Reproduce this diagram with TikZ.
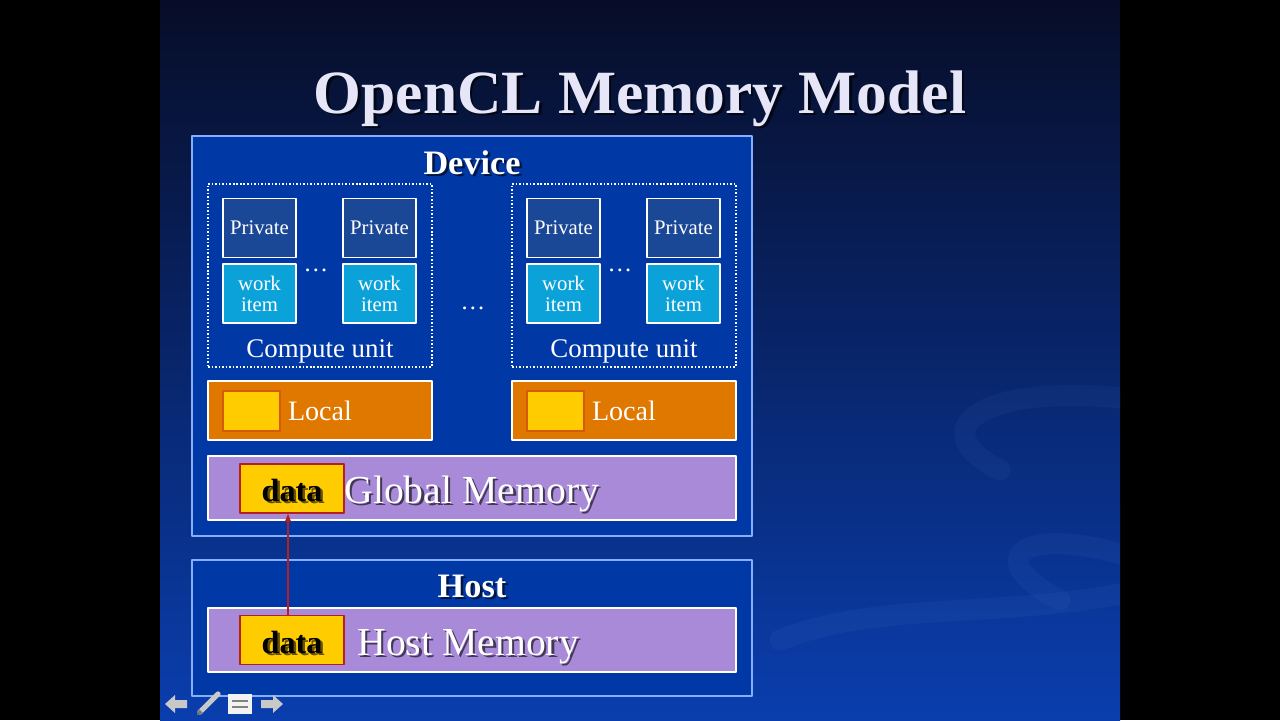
\documentclass[tikz,border=0pt]{standalone}
\usepackage{fontspec}
\setmainfont{Liberation Serif}
\usetikzlibrary{arrows.meta}
\definecolor{slidetop}{HTML}{070D28}
\definecolor{slidemid}{HTML}{0B2C84}
\definecolor{slidebot}{HTML}{0A3EAE}
\definecolor{devblue}{HTML}{0038A6}
\definecolor{edgeblue}{HTML}{86AEFF}
\definecolor{privblue}{HTML}{1A4897}
\definecolor{wicyan}{HTML}{0BA2D9}
\definecolor{locorange}{HTML}{E07800}
\definecolor{locedge}{HTML}{D45A10}
\definecolor{datayellow}{HTML}{FFCC00}
\definecolor{dataedge}{HTML}{B51F1F}
\definecolor{memlav}{HTML}{A98AD9}
\definecolor{titlewhite}{HTML}{E6E6F8}
\definecolor{navgray}{HTML}{C8C8C8}
\newcommand\shlabel[4]{% name, position, style, text
  \node[#3, text=black, opacity=0.6, xshift=0.05cm, yshift=-0.05cm] (#1-sh) at #2 {#4};
  \node[#3] (#1) at #2 {#4};}
\tikzset{
  frame/.style={draw=edgeblue, fill=devblue, line width=0.7pt, minimum width=11.2cm},
  cubox/.style={draw=white, line width=0.9pt, dash pattern=on 0.9pt off 1.1pt, minimum width=4.48cm, minimum height=3.66cm},
  priv/.style={draw=white, fill=privblue, line width=1pt, minimum width=1.46cm, minimum height=1.18cm, inner sep=0pt, text=white, font=\fontsize{11.8}{12}\selectfont},
  wi/.style={priv, fill=wicyan, align=center},
  locbox/.style={draw=white, fill=locorange, line width=1pt, minimum width=4.48cm, minimum height=1.18cm, inner sep=0pt, text=white, font=\fontsize{16}{16}\selectfont},
  locsq/.style={draw=locedge, fill=datayellow, line width=0.7pt, minimum width=1.14cm, minimum height=0.8cm},
  membox/.style={draw=white, fill=memlav, line width=1pt, minimum width=10.56cm, minimum height=1.28cm},
  databox/.style={draw=dataedge, fill=datayellow, line width=1pt, minimum width=2.08cm, minimum height=0.98cm},
  heading/.style={anchor=base, text=white, font=\bfseries\fontsize{19.5}{20}\selectfont},
  memtext/.style={anchor=base west, inner sep=0pt, text=white, font=\fontsize{22.6}{24}\selectfont},
  datatext/.style={anchor=base, text=black, font=\bfseries\fontsize{18.3}{19}\selectfont},
  cutext/.style={anchor=base, text=white, font=\fontsize{15.3}{16}\selectfont},
  dotstext/.style={text=white, font=\fontsize{14}{14}\selectfont},
}
\begin{document}
\begin{tikzpicture}[x=0.02cm, y=-0.02cm, line join=round, >=stealth]
\useasboundingbox (0,0) rectangle (1280,720);
\fill[black] (0,0) rectangle (1280,720);
\shade[top color=slidetop, middle color=slidemid, bottom color=slidebot] (160,0) rectangle (1120,720);
% faint swirls
\begin{scope}
\clip (160,0) rectangle (1120,720);
\begin{scope}[draw=edgeblue, opacity=0.05, line width=12pt, line cap=round]
\draw (1140,400) .. controls (980,380) and (920,430) .. (1000,470);
\draw (1140,560) .. controls (1020,520) and (980,560) .. (1060,600);
\draw (780,640) .. controls (880,600) and (1000,620) .. (1140,590);
\end{scope}
\end{scope}
\shlabel{title}{(640,113)}{anchor=base, text=titlewhite, font=\bfseries\fontsize{35}{36}\selectfont}{OpenCL Memory Model}

% device
\node[frame, minimum height=8cm] (device) at (472,336) {};
\shlabel{devlbl}{(472,174)}{heading}{Device}
\node[cubox] (cu1) at (320,275.5) {};
\node[cubox] (cu2) at (624,275.5) {};
\foreach \x/\n in {259.5/a, 379.5/b, 563.5/c, 683.5/d}{
  \node[priv] (priv-\n) at (\x,228) {Private};
  \node[wi] (wi-\n) at (\x,293.5) {work\\item};
}
\node[dotstext] (dots1) at (316,270) {\dots};
\node[dotstext] (dots2) at (620,270) {\dots};
\node[dotstext] (dots3) at (473,308) {\dots};
\node[cutext] (cu1lbl) at (320,357) {Compute unit};
\node[cutext] (cu2lbl) at (624,357) {Compute unit};
\node[locbox] (local1) at (320,410.5) {Local};
\node[locbox] (local2) at (624,410.5) {Local};
\node[locsq] (lsq1) at (251.5,411) {};
\node[locsq] (lsq2) at (555.5,411) {};
\node[membox] (global) at (472,488) {};
\node[databox] (gdata) at (292,488.5) {};
\shlabel{gdatalbl}{(292,501)}{datatext}{data}
\shlabel{globlbl}{(344,503)}{memtext}{Global Memory}

% host
\node[frame, minimum height=2.72cm] (host) at (472,628) {};
\shlabel{hostlbl}{(472,597)}{heading}{Host}
\node[membox] (hostmem) at (472,640) {};
\node[databox] (hdata) at (292,640) {};
\shlabel{hdatalbl}{(292,653)}{datatext}{data}
\shlabel{hmemlbl}{(357,655)}{memtext}{Host Memory}
\draw[-{Stealth[length=5pt,width=4pt]}, dataedge, line width=0.8pt] ([xshift=-0.08cm]hdata.north) -- ([xshift=-0.08cm]gdata.south);

% slide controls
\fill[navgray] (165,704) -- (175,695) -- (175,700) -- (187,700) -- (187,708) -- (175,708) -- (175,713) -- cycle;
\draw[navgray, line width=3pt, line cap=round] (200,712) -- (218,694);
\fill[navgray!60!black] (197,715) -- (199,709) -- (203,713) -- cycle;
\fill[white!90!gray] (228,694) rectangle (252,714);
\draw[gray, line width=1.2pt] (232,701) -- (248,701) (232,707) -- (248,707);
\fill[navgray] (283,704) -- (273,695) -- (273,700) -- (261,700) -- (261,708) -- (273,708) -- (273,713) -- cycle;
\end{tikzpicture}
\end{document}
